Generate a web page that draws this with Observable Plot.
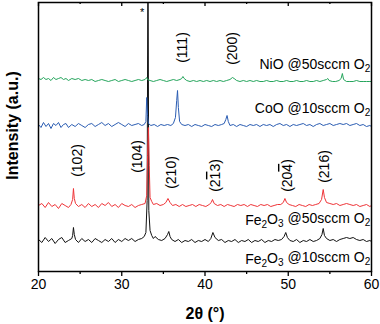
<!DOCTYPE html>
<html>
<head>
<meta charset="utf-8">
<script src="https://cdn.jsdelivr.net/npm/d3@7"></script>
<script src="https://cdn.jsdelivr.net/npm/@observablehq/plot@0.6"></script>
<style>
  html, body { margin: 0; padding: 0; background: #fff; }
  #chart { width: 380px; height: 324px; }
</style>
</head>
<body>
<div id="chart"></div>
<script>
// ---- data: [2θ (°), relative intensity (a.u.)] ----
const fe2o3_10 = [[20.0,1],[20.4,-2],[20.8,3],[21.2,-1],[21.6,2],[22.0,-3],[22.4,1],[22.8,3],[23.2,-2],[23.6,0],[24.0,2],[24.1,5],[24.2,13],[24.3,6],[24.45,1],[24.8,-2],[25.2,2],[25.6,-1],[26.0,1],[26.4,-2],[26.8,2],[27.2,0],[27.6,-2],[28.0,1],[28.4,-1],[28.8,2],[29.2,-2],[29.6,1],[30.0,-1],[30.4,2],[30.8,0],[31.2,2],[31.6,-1],[32.0,1],[32.4,2],[32.7,4],[32.9,8],[33.05,40],[33.15,300],[33.25,30],[33.4,10],[33.6,5],[33.8,2],[34.0,4],[34.4,1],[34.8,0],[35.2,2],[35.5,6],[35.65,9],[35.8,4],[36.0,1],[36.4,-1],[36.8,1],[37.2,-2],[37.6,0],[38.0,-1],[38.4,1],[38.8,-2],[39.2,0],[39.6,-1],[40.0,1],[40.4,-1],[40.7,2],[40.95,8],[41.2,3],[41.6,0],[42.0,1],[42.4,-2],[42.8,0],[43.2,-1],[43.6,1],[44.0,-2],[44.4,0],[44.8,-1],[45.2,1],[45.6,-2],[46.0,0],[46.4,-1],[46.8,1],[47.2,-2],[47.6,0],[48.0,-1],[48.4,1],[48.8,0],[49.2,1],[49.5,4],[49.7,8],[49.9,3],[50.2,0],[50.6,-1],[51.0,1],[51.4,-2],[51.8,0],[52.2,-1],[52.6,1],[53.0,-1],[53.4,0],[53.8,2],[54.05,6],[54.2,12],[54.35,5],[54.6,2],[55.0,0],[55.4,1],[55.8,-1],[56.2,1],[56.6,2],[57.0,3],[57.4,2],[57.8,3],[58.2,1],[58.6,0],[59.0,1],[59.4,-1],[59.8,0],[60.0,-1]];

const fe2o3_50 = [[20.0,0],[20.4,2],[20.8,-2],[21.2,3],[21.6,-1],[22.0,1],[22.4,-3],[22.8,2],[23.2,0],[23.6,-2],[23.9,1],[24.1,6],[24.2,17],[24.3,7],[24.45,2],[24.8,-1],[25.2,1],[25.6,-2],[26.0,2],[26.4,-1],[26.8,1],[27.2,-2],[27.6,2],[28.0,0],[28.4,3],[28.8,-1],[29.2,1],[29.6,-2],[30.0,2],[30.4,0],[30.8,-1],[31.2,1],[31.6,-2],[32.0,0],[32.4,1],[32.8,2],[33.0,10],[33.1,50],[33.2,78],[33.3,40],[33.4,8],[33.6,4],[33.8,1],[34.2,2],[34.6,0],[35.0,1],[35.3,3],[35.55,7],[35.8,3],[36.1,0],[36.5,1],[36.9,-1],[37.3,1],[37.7,-1],[38.1,0],[38.5,1],[38.9,-1],[39.3,1],[39.7,0],[40.1,-1],[40.5,1],[40.75,3],[40.9,6],[41.1,2],[41.5,0],[41.9,1],[42.3,-1],[42.7,1],[43.1,0],[43.5,-1],[43.9,1],[44.3,0],[44.7,1],[45.1,-1],[45.5,1],[45.9,0],[46.3,-1],[46.7,1],[47.1,0],[47.5,1],[47.9,-1],[48.3,0],[48.7,1],[49.1,1],[49.4,3],[49.6,7],[49.8,3],[50.1,1],[50.5,0],[50.9,-1],[51.3,1],[51.7,0],[52.1,-1],[52.5,1],[52.9,0],[53.3,1],[53.7,2],[54.0,6],[54.2,16],[54.35,8],[54.6,3],[55.0,2],[55.4,1],[55.8,2],[56.2,0],[56.6,1],[57.0,2],[57.4,1],[57.8,0],[58.2,1],[58.6,-1],[59.0,0],[59.4,1],[59.8,-1],[60.0,0]];

const coo_10 = [[20.0,1],[20.3,-2],[20.6,3],[20.9,-1],[21.2,2],[21.5,-3],[21.8,2],[22.1,0],[22.4,3],[22.7,-2],[23.0,1],[23.3,2],[23.6,-2],[24.0,1],[24.4,-1],[24.8,2],[25.2,0],[25.6,-2],[26.0,1],[26.4,2],[26.8,-1],[27.2,1],[27.6,3],[28.0,0],[28.4,2],[28.8,-1],[29.2,1],[29.6,3],[30.0,1],[30.4,-1],[30.8,2],[31.2,0],[31.6,1],[32.0,2],[32.4,0],[32.7,1],[32.9,4],[33.0,28],[33.1,10],[33.2,2],[33.5,0],[33.9,1],[34.3,-1],[34.7,1],[35.1,0],[35.5,1],[35.9,0],[36.2,2],[36.45,8],[36.6,25],[36.7,35],[36.8,18],[36.95,4],[37.2,1],[37.6,0],[38.0,1],[38.4,-1],[38.8,1],[39.2,0],[39.6,-1],[40.0,1],[40.4,0],[40.8,-1],[41.2,1],[41.6,0],[42.0,1],[42.3,2],[42.5,6],[42.65,10],[42.8,4],[43.0,0],[43.4,1],[43.8,-1],[44.2,1],[44.6,0],[45.0,-1],[45.4,1],[45.8,0],[46.2,1],[46.6,-1],[47.0,1],[47.4,0],[47.8,1],[48.2,-1],[48.6,1],[49.0,2],[49.4,0],[49.8,1],[50.2,-1],[50.6,1],[51.0,0],[51.4,1],[51.8,2],[52.2,0],[52.6,1],[53.0,-1],[53.4,1],[53.8,2],[54.2,0],[54.6,1],[55.0,2],[55.4,0],[55.8,1],[56.2,2],[56.6,1],[57.0,2],[57.4,0],[57.8,1],[58.2,2],[58.6,0],[59.0,1],[59.4,-1],[59.8,0],[60.0,-1]];

const nio_50 = [[20.0,2],[20.3,1],[20.6,3],[20.9,1],[21.2,2],[21.5,0],[21.8,3],[22.1,1],[22.4,2],[22.7,3],[23.0,1],[23.3,2],[23.6,0],[24.0,2],[24.4,1],[24.8,2],[25.2,0],[25.6,1],[26.0,0],[26.4,1],[26.8,-1],[27.2,0],[27.6,1],[28.0,0],[28.4,-1],[28.8,0],[29.2,1],[29.6,-1],[30.0,0],[30.4,1],[30.8,0],[31.2,-1],[31.6,0],[32.0,1],[32.4,0],[32.8,1],[33.0,3],[33.1,1],[33.4,0],[33.8,-1],[34.2,0],[34.6,1],[35.0,0],[35.4,-1],[35.8,0],[36.2,1],[36.6,0],[37.0,1],[37.2,2],[37.35,4],[37.5,2],[37.8,0],[38.2,-1],[38.6,0],[39.0,-1],[39.4,0],[39.8,-1],[40.2,0],[40.6,-1],[41.0,0],[41.4,-1],[41.8,0],[42.2,-1],[42.6,0],[43.0,1],[43.3,3],[43.5,2],[43.8,0],[44.2,-1],[44.6,0],[45.0,-1],[45.4,0],[45.8,-1],[46.2,0],[46.6,-1],[47.0,-1],[47.4,0],[47.8,-1],[48.2,-1],[48.6,0],[49.0,-1],[49.4,-1],[49.8,0],[50.2,-1],[50.6,-1],[51.0,0],[51.4,-1],[51.8,-1],[52.2,0],[52.6,-1],[53.0,-1],[53.4,0],[53.8,-1],[54.2,0],[54.6,1],[54.75,2],[54.9,0],[55.3,-1],[55.7,-1],[56.1,0],[56.35,2],[56.5,7],[56.65,1],[57.0,-1],[57.4,-1],[57.8,-1],[58.2,0],[58.6,-1],[59.0,-1],[59.4,-1],[59.8,-1],[60.0,-1]];

// vertical stacking offsets of the four patterns (a.u.)
const seriesNames   = ["Fe2O3 @10sccm", "Fe2O3 @50sccm", "CoO @10sccm", "NiO @50sccm"];
const seriesOffsets = [31, 66, 146, 191];
const seriesColors  = ["#111111", "#ef3438", "#2b5db3", "#25a55c"];

// sample labels (markup: _n = subscript)
const sampleText  = ["Fe_2O_3 @10sccm O_2", "Fe_2O_3 @50sccm O_2", "CoO @10sccm O_2", "NiO @50sccm O_2"];
const sampleTheta = [59.85, 59.85, 59.85, 59.85];
const sampleI     = [12, 51, 163, 207];

// Miller index labels (markup: ~n = overlined digit)
const millerText  = ["(102)", "(104)", "(210)", "(2~13)", "(20~4)", "(216)", "(111)", "(200)"];
const millerTheta = [24.65, 31.89, 35.98, 41.26, 49.91, 54.35, 37.30, 43.30];
const millerI     = [111, 115, 99, 96, 96, 105, 224, 223];

const majorTicks = [20, 30, 40, 50, 60];
const minorTicks = [25, 35, 45, 55];

const traces = [fe2o3_10, fe2o3_50, coo_10, nio_50];

const lineMarks = traces.map((tr, i) =>
  Plot.line(tr, {
    x: d => d[0],
    y: d => d[1] + seriesOffsets[i],
    stroke: seriesColors[i],
    strokeWidth: 1,
    clip: true
  })
);

const samples = sampleText.map((t, i) => ({t, x: sampleTheta[i], y: sampleI[i]}));
const millers = millerText.map((t, i) => ({t, x: millerTheta[i], y: millerI[i]}));

const chart = Plot.plot({
  width: 380,
  height: 324,
  marginLeft: 38,
  marginRight: 9,
  marginTop: 2,
  marginBottom: 53,
  x: {domain: [20, 60]},
  y: {domain: [0, 269], axis: null},
  style: {fontFamily: "'Liberation Sans', Arial, sans-serif", fontSize: "14px", color: "#000", background: "#fff", overflow: "visible"},
  marks: [
    ...lineMarks,
    Plot.frame({stroke: "#000", strokeWidth: 1.5}),
    Plot.axisX({ticks: majorTicks, tickSize: 5, tickPadding: 3, tickFormat: d => String(d), label: null, strokeWidth: 1.3, fontSize: 14}),
    Plot.axisX({ticks: minorTicks, tickSize: 3, tickFormat: () => "", label: null, strokeWidth: 1.3}),
    Plot.ruleX(majorTicks, {y1: 269, y2: 265, stroke: "#000", strokeWidth: 1.3}),
    Plot.ruleX(minorTicks, {y1: 269, y2: 267, stroke: "#000", strokeWidth: 1.3}),
    Plot.text(millers, {x: "x", y: "y", text: "t", rotate: -90, fontSize: 14, fill: "#000"}),
    Plot.text(samples, {x: "x", y: "y", text: "t", textAnchor: "end", fontSize: 14, fill: "#000"}),
    Plot.text([{x: 32.45, y: 259, t: "*"}], {x: "x", y: "y", text: "t", fontSize: 11, fill: "#000"}),
    Plot.text([{x: 40, y: -42, t: "2θ (°)"}], {x: "x", y: "y", text: "t", fontSize: 16, fontWeight: "bold", fill: "#000"}),
    Plot.text([{x: 16.9, y: 146, t: "Intensity (a.u.)"}], {x: "x", y: "y", text: "t", rotate: -90, fontSize: 16, fontWeight: "bold", fill: "#000"})
  ]
});

// turn _n into subscripts and ~n into overlined characters
d3.select(chart).selectAll("text").each(function () {
  const txt = this.textContent;
  if (!/[_~]/.test(txt)) return;
  const el = d3.select(this);
  el.text(null);
  let shifted = false;
  let buf = "";
  const flush = () => { if (buf) { const s = el.append("tspan").text(buf); if (shifted) { s.attr("dy", "-0.28em"); shifted = false; } buf = ""; } };
  for (let i = 0; i < txt.length; i++) {
    const c = txt[i];
    if (c === "_" && i + 1 < txt.length) {
      flush();
      el.append("tspan").attr("font-size", "10px").attr("dy", shifted ? null : "0.28em").text(txt[++i]);
      shifted = true;
    } else if (c === "~" && i + 1 < txt.length) {
      flush();
      el.append("tspan").style("text-decoration", "overline").text(txt[++i]);
    } else {
      buf += c;
    }
  }
  flush();
});

document.getElementById("chart").appendChild(chart);
</script>
</body>
</html>
